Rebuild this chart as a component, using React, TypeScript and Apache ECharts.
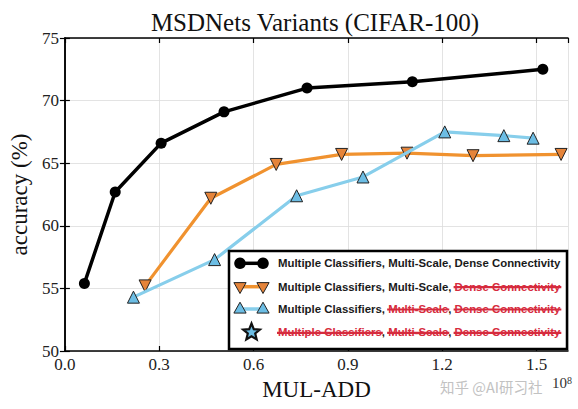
import React, { useEffect, useRef } from "react";
import * as echarts from "echarts";

// ---- data ----
const xTickStep = 0.3;
const xMin = 0;
const xMax = 1.6;
const yMin = 50;
const yMax = 75;
const yTickStep = 5;

const denseX = [0.062, 0.16, 0.306, 0.506, 0.77, 1.105, 1.52];
const denseY = [55.4, 62.7, 66.6, 69.1, 71.0, 71.5, 72.5];
const noDenseX = [0.255, 0.464, 0.672, 0.88, 1.088, 1.298, 1.578];
const noDenseY = [55.2, 62.2, 64.9, 65.7, 65.8, 65.6, 65.7];
const singleX = [0.218, 0.476, 0.737, 0.948, 1.208, 1.396, 1.489];
const singleY = [54.3, 57.3, 62.4, 63.9, 67.5, 67.2, 67.0];

const seriesNames = [
  "Multiple Classifiers, Multi-Scale, Dense Connectivity",
  "Multiple Classifiers, Multi-Scale, ~~Dense Connectivity",
  "Multiple Classifiers, ~~Multi-Scale, Dense Connectivity",
  "~~Multiple Classifiers, Multi-Scale, Dense Connectivity",
];
// legend segments: [text, struck]
const legendSegments: [string, boolean][][] = [
  [["Multiple Classifiers, Multi-Scale, Dense Connectivity", false]],
  [["Multiple Classifiers, Multi-Scale, ", false], ["Dense Connectivity", true]],
  [["Multiple Classifiers, ", false], ["Multi-Scale", true], [", ", false], ["Dense Connectivity", true]],
  [["Multiple Classifiers", true], [", ", false], ["Multi-Scale", true], [", ", false], ["Dense Connectivity", true]],
];

const title = "MSDNets Variants (CIFAR-100)";
const xName = "MUL-ADD";
const yName = "accuracy (%)";
const watermark = "知乎 @AI研习社";

const BLACK = "#000000";
const ORANGE_LINE = "#f0922f";
const ORANGE_FILL = "#e5843a";
const BLUE_LINE = "#87ceeb";
const BLUE_FILL = "#6cbde4";
const RED = "#d62b3d";

function zip(xs: number[], ys: number[]) {
  return xs.map((x, i) => [x, ys[i]]);
}

export default function App() {
  const ref = useRef<HTMLDivElement>(null);
  useEffect(() => {
    if (!ref.current) return;
    const chart = echarts.init(ref.current, null, { renderer: "svg" });

    const serif = "Liberation Serif";
    const LEG_FS = 11.4;
    const legFont = `bold ${LEG_FS}px "Liberation Sans", Arial, sans-serif`;
    const canvas = document.createElement("canvas");
    const ctx = canvas.getContext("2d")!;
    ctx.font = legFont;

    // legend geometry
    const lx = 229, ly = 251, lw = 338, lh = 98;
    const rowY = [263.3, 286.7, 309, 332.3];
    const textX = 278;
    const legend: any[] = [
      {
        type: "rect",
        shape: { x: lx, y: ly, width: lw, height: lh },
        style: { fill: "#ffffff", stroke: "#000", lineWidth: 2.5 },
        z: 100,
      },
    ];
    const triPts = (cx: number, cy: number, r: number, down: boolean) => {
      const s = down ? -1 : 1;
      return [
        [cx, cy - s * r],
        [cx - r * 0.9, cy + s * r * 0.6],
        [cx + r * 0.9, cy + s * r * 0.6],
      ];
    };
    const starPts = (cx: number, cy: number, R: number, r: number) => {
      const pts: number[][] = [];
      for (let i = 0; i < 10; i++) {
        const a = -Math.PI / 2 + (i * Math.PI) / 5;
        const rad = i % 2 === 0 ? R : r;
        pts.push([cx + rad * Math.cos(a), cy + rad * Math.sin(a)]);
      }
      return pts;
    };
    const sx1 = 240, sx2 = 263;
    legend.push({ type: "line", shape: { x1: sx1, y1: rowY[0], x2: sx2, y2: rowY[0] }, style: { stroke: BLACK, lineWidth: 3.5 }, z: 101 });
    [sx1, sx2].forEach((cx) => legend.push({ type: "circle", shape: { cx, cy: rowY[0], r: 5.8 }, style: { fill: BLACK }, z: 102 }));
    legend.push({ type: "line", shape: { x1: sx1, y1: rowY[1], x2: sx2, y2: rowY[1] }, style: { stroke: ORANGE_LINE, lineWidth: 3.5 }, z: 101 });
    [sx1, sx2].forEach((cx) => legend.push({ type: "polygon", shape: { points: triPts(cx, rowY[1], 6.8, true) }, style: { fill: ORANGE_FILL, stroke: "#222", lineWidth: 1 }, z: 102 }));
    legend.push({ type: "line", shape: { x1: sx1, y1: rowY[2], x2: sx2, y2: rowY[2] }, style: { stroke: BLUE_LINE, lineWidth: 3.5 }, z: 101 });
    [sx1, sx2].forEach((cx) => legend.push({ type: "polygon", shape: { points: triPts(cx, rowY[2], 6.8, false) }, style: { fill: BLUE_FILL, stroke: "#222", lineWidth: 1 }, z: 102 }));
    legend.push({ type: "polygon", shape: { points: starPts(251.5, rowY[3], 8.8, 3.9) }, style: { fill: BLUE_FILL, stroke: "#111", lineWidth: 2.2 }, z: 102 });

    legendSegments.forEach((segs, ri) => {
      let x = textX;
      segs.forEach(([t, struck]) => {
        const w = ctx.measureText(t).width;
        legend.push({
          type: "text",
          x,
          y: rowY[ri],
          style: {
            text: t,
            font: legFont,
            fill: struck ? RED : "#1a1a1a",
            align: "left",
            verticalAlign: "middle",
          },
          z: 103,
        });
        if (struck) {
          legend.push({
            type: "line",
            shape: { x1: x - 1, y1: rowY[ri] + 0.5, x2: x + w + 1, y2: rowY[ri] + 0.5 },
            style: { stroke: RED, lineWidth: 2.2 },
            z: 104,
          });
        }
        x += w;
      });
    });

    const axisLine = { show: true, lineStyle: { color: "#000", width: 1.5 } };
    const axisTick = { show: true, inside: true, length: 5, lineStyle: { color: "#000", width: 1.2 } };
    const fmtX = (v: number) => (Math.abs(v - xMax) < 1e-9 ? "" : v.toFixed(1));

    const option: any = {
      animation: false,
      backgroundColor: "#ffffff",
      grid: { left: 63, right: 10, top: 38, bottom: 58, containLabel: false },
      xAxis: [
        {
          type: "value",
          min: xMin,
          max: xMax,
          interval: xTickStep,
          position: "bottom",
          axisLine,
          axisTick,
          axisLabel: { formatter: fmtX, fontFamily: serif, fontSize: 17, color: "#222", margin: 5, showMaxLabel: false },
          splitLine: { show: true, lineStyle: { color: "#dcdcdc", width: 0.8 } },
          name: xName,
          nameLocation: "middle",
          nameGap: 24,
          nameTextStyle: { fontFamily: serif, fontSize: 23, color: "#111" },
        },
        {
          type: "value",
          min: xMin,
          max: xMax,
          interval: xTickStep,
          position: "top",
          axisLine,
          axisTick,
          axisLabel: { show: false },
          splitLine: { show: false },
        },
      ],
      yAxis: [
        {
          type: "value",
          min: yMin,
          max: yMax,
          interval: yTickStep,
          position: "left",
          axisLine,
          axisTick,
          axisLabel: { fontFamily: serif, fontSize: 17, color: "#222", margin: 6 },
          splitLine: { show: true, lineStyle: { color: "#dcdcdc", width: 0.8 } },
          name: yName,
          nameLocation: "middle",
          nameGap: 29,
          nameRotate: 90,
          nameTextStyle: { fontFamily: serif, fontSize: 23, color: "#111" },
        },
        {
          type: "value",
          min: yMin,
          max: yMax,
          interval: yTickStep,
          position: "right",
          axisLine,
          axisTick,
          axisLabel: { show: false },
          splitLine: { show: false },
        },
      ],
      series: [
        {
          name: seriesNames[1],
          type: "line",
          data: zip(noDenseX, noDenseY),
          symbol: "triangle",
          symbolRotate: 180,
          symbolSize: 12,
          lineStyle: { color: ORANGE_LINE, width: 3.2 },
          itemStyle: { color: ORANGE_FILL, borderColor: "#222", borderWidth: 1 },
          z: 3,
        },
        {
          name: seriesNames[2],
          type: "line",
          data: zip(singleX, singleY),
          symbol: "triangle",
          symbolSize: 12,
          lineStyle: { color: BLUE_LINE, width: 3.2 },
          itemStyle: { color: BLUE_FILL, borderColor: "#222", borderWidth: 1 },
          z: 4,
        },
        {
          name: seriesNames[0],
          type: "line",
          data: zip(denseX, denseY),
          symbol: "circle",
          symbolSize: 11,
          lineStyle: { color: BLACK, width: 3.5 },
          itemStyle: { color: BLACK },
          z: 5,
        },
        {
          name: seriesNames[3],
          type: "scatter",
          data: [],
          symbol: "star",
          itemStyle: { color: BLUE_FILL },
        },
      ],
      graphic: [
        {
          type: "text",
          x: 315,
          y: 22,
          style: { text: title, font: `25px "${serif}"`, fill: "#111", align: "center", verticalAlign: "middle" },
        },
        {
          type: "text",
          x: 440,
          y: 386,
          style: { text: watermark, font: `14.5px "Noto Sans CJK SC"`, fill: "#c2c2c2", align: "left", verticalAlign: "middle" },
          z: 50,
        },
        {
          type: "text",
          x: 572,
          y: 383,
          style: {
            text: "{a|10}{b|8}",
            rich: {
              a: { fontFamily: serif, fontSize: 15, fill: "#333", verticalAlign: "bottom" },
              b: { fontFamily: serif, fontSize: 10, fill: "#333", verticalAlign: "top" },
            },
            align: "right",
            verticalAlign: "middle",
          },
          z: 51,
        },
        ...legend,
      ],
    };
    chart.setOption(option);
    return () => chart.dispose();
  }, []);
  return (
    <div
      ref={ref}
      style={{ position: "fixed", left: 0, top: 0, width: 578, height: 409 }}
    />
  );
}
